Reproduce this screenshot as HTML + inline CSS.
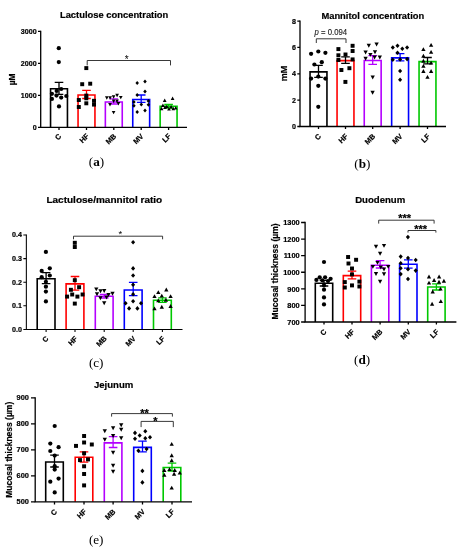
<!DOCTYPE html><html><head><meta charset="utf-8"><style>html,body{margin:0;padding:0;background:#fff}svg{display:block;filter:blur(0.3px)}text[font-weight="700"]{stroke:#000;stroke-width:.2px}</style></head><body><svg width="464" height="550" viewBox="0 0 464 550"><rect width="464" height="550" fill="#fff"/><text transform="translate(114.1,18.1) scale(1,1)" font-family='"Liberation Sans", Arial, sans-serif' font-weight="700" font-size="9.4" text-anchor="middle">Lactulose concentration</text>
<text transform="translate(15.2,79.4) rotate(-90)" font-family='"Liberation Sans", Arial, sans-serif' font-weight="700" font-size="8.4" text-anchor="middle">µM</text>
<path d="M50.55 127.45V88.80H67.45V127.45" fill="#fff" stroke="#000000" stroke-width="1.6"/>
<path d="M78.05 127.45V95.00H94.95V127.45" fill="#fff" stroke="#ff0000" stroke-width="1.6"/>
<path d="M105.35 127.45V102.00H122.25V127.45" fill="#fff" stroke="#b400ff" stroke-width="1.6"/>
<path d="M132.75 127.45V99.50H149.65V127.45" fill="#fff" stroke="#0000ff" stroke-width="1.6"/>
<path d="M160.15 127.45V106.30H177.05V127.45" fill="#fff" stroke="#00c800" stroke-width="1.6"/>
<path d="M40.7 30.65V127.45H187" fill="none" stroke="#000" stroke-width="1.3"/>
<text transform="translate(36.60,33.86) scale(1,1)" font-family='"Liberation Sans", Arial, sans-serif' font-weight="700" font-size="7.1" text-anchor="end">3000</text>
<text transform="translate(36.60,65.91) scale(1,1)" font-family='"Liberation Sans", Arial, sans-serif' font-weight="700" font-size="7.1" text-anchor="end">2000</text>
<text transform="translate(36.60,97.96) scale(1,1)" font-family='"Liberation Sans", Arial, sans-serif' font-weight="700" font-size="7.1" text-anchor="end">1000</text>
<text transform="translate(36.60,130.01) scale(1,1)" font-family='"Liberation Sans", Arial, sans-serif' font-weight="700" font-size="7.1" text-anchor="end">0</text>
<path d="M38.00 31.3H40.7M38.00 63.35H40.7M38.00 95.4H40.7M38.00 127.45H40.7M59.00 127.45v2.6M86.50 127.45v2.6M113.80 127.45v2.6M141.20 127.45v2.6M168.60 127.45v2.6" fill="none" stroke="#000" stroke-width="1.3"/>
<path d="M59.00 82.40V94.40M54.70 82.40h8.60M54.70 94.40h8.60" fill="none" stroke="#000000" stroke-width="1.3"/>
<g fill="#000"><circle cx="58.80" cy="48.20" r="2.12"/><circle cx="58.80" cy="62.10" r="2.12"/><circle cx="61.20" cy="89.00" r="2.12"/><circle cx="56.70" cy="90.90" r="2.12"/><circle cx="51.90" cy="93.80" r="2.12"/><circle cx="56.50" cy="95.60" r="2.12"/><circle cx="61.20" cy="97.60" r="2.12"/><circle cx="66.30" cy="96.00" r="2.12"/><circle cx="51.90" cy="98.90" r="2.12"/><circle cx="59.00" cy="106.40" r="2.12"/></g>
<text transform="translate(60.50,135.35) rotate(-45)" font-family='"Liberation Sans", Arial, sans-serif' font-weight="700" font-size="7.3" text-anchor="end" dominant-baseline="middle">C</text>
<path d="M86.50 90.40V98.50M82.20 90.40h8.60M82.20 98.50h8.60" fill="none" stroke="#ff0000" stroke-width="1.3"/>
<g fill="#000"><rect x="84.33" y="66.12" width="3.95" height="3.95"/><rect x="80.23" y="82.23" width="3.95" height="3.95"/><rect x="88.23" y="81.73" width="3.95" height="3.95"/><rect x="84.33" y="93.62" width="3.95" height="3.95"/><rect x="84.33" y="96.33" width="3.95" height="3.95"/><rect x="76.83" y="98.03" width="3.95" height="3.95"/><rect x="92.03" y="98.83" width="3.95" height="3.95"/><rect x="84.33" y="101.33" width="3.95" height="3.95"/><rect x="92.03" y="102.62" width="3.95" height="3.95"/><rect x="76.83" y="105.03" width="3.95" height="3.95"/></g>
<text transform="translate(88.00,135.35) rotate(-45)" font-family='"Liberation Sans", Arial, sans-serif' font-weight="700" font-size="7.3" text-anchor="end" dominant-baseline="middle">HF</text>
<path d="M113.80 98.80V104.00M109.50 98.80h8.60M109.50 104.00h8.60" fill="none" stroke="#b400ff" stroke-width="1.3"/>
<g fill="#000"><path d="M104.95 96.32L108.65 96.32L106.80 99.68Z"/><path d="M108.25 96.32L111.95 96.32L110.10 99.68Z"/><path d="M111.75 95.32L115.45 95.32L113.60 98.68Z"/><path d="M115.25 93.82L118.95 93.82L117.10 97.18Z"/><path d="M118.95 95.92L122.65 95.92L120.80 99.28Z"/><path d="M111.75 99.62L115.45 99.62L113.60 102.98Z"/><path d="M115.15 99.62L118.85 99.62L117.00 102.98Z"/><path d="M108.15 103.12L111.85 103.12L110.00 106.48Z"/><path d="M116.55 102.12L120.25 102.12L118.40 105.48Z"/><path d="M111.75 110.92L115.45 110.92L113.60 114.28Z"/></g>
<text transform="translate(115.30,135.35) rotate(-45)" font-family='"Liberation Sans", Arial, sans-serif' font-weight="700" font-size="7.3" text-anchor="end" dominant-baseline="middle">MB</text>
<path d="M141.20 95.00V102.40M136.90 95.00h8.60M136.90 102.40h8.60" fill="none" stroke="#0000ff" stroke-width="1.3"/>
<g fill="#000"><path d="M135.44 83.10L137.20 81.12L138.96 83.10L137.20 85.08Z"/><path d="M143.24 81.50L145.00 79.52L146.76 81.50L145.00 83.48Z"/><path d="M143.24 91.60L145.00 89.62L146.76 91.60L145.00 93.58Z"/><path d="M135.44 95.10L137.20 93.12L138.96 95.10L137.20 97.08Z"/><path d="M132.14 102.00L133.90 100.02L135.66 102.00L133.90 103.98Z"/><path d="M132.14 105.80L133.90 103.82L135.66 105.80L133.90 107.78Z"/><path d="M139.54 104.40L141.30 102.42L143.06 104.40L141.30 106.38Z"/><path d="M146.64 101.10L148.40 99.12L150.16 101.10L148.40 103.08Z"/><path d="M146.64 104.70L148.40 102.72L150.16 104.70L148.40 106.68Z"/><path d="M135.44 112.00L137.20 110.02L138.96 112.00L137.20 113.98Z"/><path d="M143.24 110.60L145.00 108.62L146.76 110.60L145.00 112.58Z"/></g>
<text transform="translate(142.70,135.35) rotate(-45)" font-family='"Liberation Sans", Arial, sans-serif' font-weight="700" font-size="7.3" text-anchor="end" dominant-baseline="middle">MV</text>
<path d="M168.60 104.50V108.20M164.30 104.50h8.60M164.30 108.20h8.60" fill="none" stroke="#00c800" stroke-width="1.3"/>
<g fill="#000"><path d="M162.85 101.88L166.55 101.88L164.70 98.52Z"/><path d="M170.75 99.88L174.45 99.88L172.60 96.52Z"/><path d="M161.05 106.98L164.75 106.98L162.90 103.62Z"/><path d="M159.75 110.18L163.45 110.18L161.60 106.82Z"/><path d="M163.15 108.98L166.85 108.98L165.00 105.62Z"/><path d="M164.95 108.08L168.65 108.08L166.80 104.72Z"/><path d="M167.15 110.48L170.85 110.48L169.00 107.12Z"/><path d="M169.25 108.48L172.95 108.48L171.10 105.12Z"/><path d="M171.45 110.18L175.15 110.18L173.30 106.82Z"/><path d="M173.85 109.58L177.55 109.58L175.70 106.22Z"/></g>
<text transform="translate(170.10,135.35) rotate(-45)" font-family='"Liberation Sans", Arial, sans-serif' font-weight="700" font-size="7.3" text-anchor="end" dominant-baseline="middle">LF</text>
<path d="M87.2 65.4V60.5H170.5V65.4" fill="none" stroke="#222" stroke-width="0.9"/>
<text transform="translate(126.8,62.9) scale(1,1)" font-family='"Liberation Sans", Arial, sans-serif' font-size="10" text-anchor="middle" >*</text>
<text x="96.5" y="166.4" font-family='"Liberation Serif", serif' font-size="13.2" text-anchor="middle">(<tspan font-weight="700">a</tspan>)</text>
<text transform="translate(372.8,18.9) scale(1,1)" font-family='"Liberation Sans", Arial, sans-serif' font-weight="700" font-size="9.35" text-anchor="middle">Mannitol concentration</text>
<text transform="translate(287.1,73.5) rotate(-90)" font-family='"Liberation Sans", Arial, sans-serif' font-weight="700" font-size="9.1" text-anchor="middle">mM</text>
<path d="M310.05 126.5V71.90H326.95V126.5" fill="#fff" stroke="#000000" stroke-width="1.6"/>
<path d="M337.05 126.5V60.60H353.95V126.5" fill="#fff" stroke="#ff0000" stroke-width="1.6"/>
<path d="M364.25 126.5V60.50H381.15V126.5" fill="#fff" stroke="#b400ff" stroke-width="1.6"/>
<path d="M391.65 126.5V57.90H408.55V126.5" fill="#fff" stroke="#0000ff" stroke-width="1.6"/>
<path d="M419.05 126.5V61.60H435.95V126.5" fill="#fff" stroke="#00c800" stroke-width="1.6"/>
<path d="M300.0 20.45V126.5H446" fill="none" stroke="#000" stroke-width="1.3"/>
<text transform="translate(295.90,23.66) scale(1,1)" font-family='"Liberation Sans", Arial, sans-serif' font-weight="700" font-size="7.1" text-anchor="end">8</text>
<text transform="translate(295.90,50.01) scale(1,1)" font-family='"Liberation Sans", Arial, sans-serif' font-weight="700" font-size="7.1" text-anchor="end">6</text>
<text transform="translate(295.90,76.36) scale(1,1)" font-family='"Liberation Sans", Arial, sans-serif' font-weight="700" font-size="7.1" text-anchor="end">4</text>
<text transform="translate(295.90,102.71) scale(1,1)" font-family='"Liberation Sans", Arial, sans-serif' font-weight="700" font-size="7.1" text-anchor="end">2</text>
<text transform="translate(295.90,129.06) scale(1,1)" font-family='"Liberation Sans", Arial, sans-serif' font-weight="700" font-size="7.1" text-anchor="end">0</text>
<path d="M297.30 21.1H300.0M297.30 47.45H300.0M297.30 73.8H300.0M297.30 100.15H300.0M297.30 126.5H300.0M318.50 126.5v2.6M345.50 126.5v2.6M372.70 126.5v2.6M400.10 126.5v2.6M427.50 126.5v2.6" fill="none" stroke="#000" stroke-width="1.3"/>
<path d="M318.50 65.40V77.30M314.20 65.40h8.60M314.20 77.30h8.60" fill="none" stroke="#000000" stroke-width="1.3"/>
<g fill="#000"><circle cx="311.10" cy="53.80" r="2.12"/><circle cx="318.30" cy="51.50" r="2.12"/><circle cx="325.40" cy="52.80" r="2.12"/><circle cx="321.80" cy="62.20" r="2.12"/><circle cx="314.40" cy="64.50" r="2.12"/><circle cx="311.10" cy="78.60" r="2.12"/><circle cx="318.30" cy="76.60" r="2.12"/><circle cx="325.40" cy="78.60" r="2.12"/><circle cx="318.30" cy="85.80" r="2.12"/><circle cx="318.30" cy="106.80" r="2.12"/></g>
<text transform="translate(320.10,135.50) rotate(-45)" font-family='"Liberation Sans", Arial, sans-serif' font-weight="700" font-size="7.3" text-anchor="end" dominant-baseline="middle">C</text>
<path d="M345.50 56.80V63.30M341.20 56.80h8.60M341.20 63.30h8.60" fill="none" stroke="#000" stroke-width="1.3"/>
<g fill="#000"><rect x="336.42" y="47.12" width="3.95" height="3.95"/><rect x="350.62" y="43.82" width="3.95" height="3.95"/><rect x="350.62" y="49.02" width="3.95" height="3.95"/><rect x="336.42" y="53.32" width="3.95" height="3.95"/><rect x="343.52" y="52.52" width="3.95" height="3.95"/><rect x="336.42" y="58.02" width="3.95" height="3.95"/><rect x="350.62" y="57.42" width="3.95" height="3.95"/><rect x="339.42" y="68.03" width="3.95" height="3.95"/><rect x="347.42" y="66.23" width="3.95" height="3.95"/><rect x="343.42" y="79.93" width="3.95" height="3.95"/></g>
<text transform="translate(347.10,135.50) rotate(-45)" font-family='"Liberation Sans", Arial, sans-serif' font-weight="700" font-size="7.3" text-anchor="end" dominant-baseline="middle">HF</text>
<path d="M372.70 55.60V64.30M368.40 55.60h8.60M368.40 64.30h8.60" fill="none" stroke="#b400ff" stroke-width="1.3"/>
<g fill="#000"><path d="M366.65 43.85L370.95 43.85L368.80 47.75Z"/><path d="M374.45 42.55L378.75 42.55L376.60 46.45Z"/><path d="M363.45 50.55L367.75 50.55L365.60 54.45Z"/><path d="M372.85 50.35L377.15 50.35L375.00 54.25Z"/><path d="M368.25 52.95L372.55 52.95L370.40 56.85Z"/><path d="M363.45 56.85L367.75 56.85L365.60 60.75Z"/><path d="M372.45 55.55L376.75 55.55L374.60 59.45Z"/><path d="M377.65 55.55L381.95 55.55L379.80 59.45Z"/><path d="M370.55 75.55L374.85 75.55L372.70 79.45Z"/><path d="M370.45 90.85L374.75 90.85L372.60 94.75Z"/></g>
<text transform="translate(374.30,135.50) rotate(-45)" font-family='"Liberation Sans", Arial, sans-serif' font-weight="700" font-size="7.3" text-anchor="end" dominant-baseline="middle">MB</text>
<path d="M400.10 53.60V60.90M395.80 53.60h8.60M395.80 60.90h8.60" fill="none" stroke="#0000ff" stroke-width="1.3"/>
<g fill="#000"><path d="M390.75 47.50L392.80 45.20L394.85 47.50L392.80 49.80Z"/><path d="M395.45 45.80L397.50 43.50L399.55 45.80L397.50 48.10Z"/><path d="M400.25 48.80L402.30 46.50L404.35 48.80L402.30 51.10Z"/><path d="M405.05 47.50L407.10 45.20L409.15 47.50L407.10 49.80Z"/><path d="M395.45 52.70L397.50 50.40L399.55 52.70L397.50 55.00Z"/><path d="M390.75 59.70L392.80 57.40L394.85 59.70L392.80 62.00Z"/><path d="M398.05 59.40L400.10 57.10L402.15 59.40L400.10 61.70Z"/><path d="M405.05 59.10L407.10 56.80L409.15 59.10L407.10 61.40Z"/><path d="M398.05 71.00L400.10 68.70L402.15 71.00L400.10 73.30Z"/><path d="M398.05 79.80L400.10 77.50L402.15 79.80L400.10 82.10Z"/></g>
<text transform="translate(401.70,135.50) rotate(-45)" font-family='"Liberation Sans", Arial, sans-serif' font-weight="700" font-size="7.3" text-anchor="end" dominant-baseline="middle">MV</text>
<path d="M427.50 57.50V63.90M423.20 57.50h8.60M423.20 63.90h8.60" fill="none" stroke="#000" stroke-width="1.3"/>
<g fill="#000"><path d="M428.95 46.85L433.25 46.85L431.10 42.95Z"/><path d="M421.25 51.05L425.55 51.05L423.40 47.15Z"/><path d="M428.95 53.85L433.25 53.85L431.10 49.95Z"/><path d="M421.25 57.75L425.55 57.75L423.40 53.85Z"/><path d="M421.25 62.65L425.55 62.65L423.40 58.75Z"/><path d="M428.95 64.55L433.25 64.55L431.10 60.65Z"/><path d="M421.25 67.85L425.55 67.85L423.40 63.95Z"/><path d="M421.25 72.95L425.55 72.95L423.40 69.05Z"/><path d="M428.95 72.95L433.25 72.95L431.10 69.05Z"/><path d="M425.35 78.85L429.65 78.85L427.50 74.95Z"/></g>
<text transform="translate(429.10,135.50) rotate(-45)" font-family='"Liberation Sans", Arial, sans-serif' font-weight="700" font-size="7.3" text-anchor="end" dominant-baseline="middle">LF</text>
<path d="M316.3 43V38.8H346V43" fill="none" stroke="#222" stroke-width="0.9"/>
<text transform="translate(330.8,35.0) scale(0.9,1)" font-family='"Liberation Sans", Arial, sans-serif' font-size="8.6" text-anchor="middle" fill="#1a1a1a" stroke="#1a1a1a" stroke-width="0.12"><tspan font-style="italic">p</tspan> = 0.094</text>
<text x="362.3" y="167.6" font-family='"Liberation Serif", serif' font-size="13.2" text-anchor="middle">(<tspan font-weight="700">b</tspan>)</text>
<text transform="translate(104.3,202.8) scale(1.08,1)" font-family='"Liberation Sans", Arial, sans-serif' font-weight="700" font-size="9.3" text-anchor="middle">Lactulose/mannitol ratio</text>
<path d="M37.20 329.4V278.80H55.00V329.4" fill="#fff" stroke="#000000" stroke-width="1.6"/>
<path d="M66.10 329.4V283.90H83.90V329.4" fill="#fff" stroke="#ff0000" stroke-width="1.6"/>
<path d="M95.30 329.4V296.20H113.10V329.4" fill="#fff" stroke="#b400ff" stroke-width="1.6"/>
<path d="M124.30 329.4V290.00H142.10V329.4" fill="#fff" stroke="#0000ff" stroke-width="1.6"/>
<path d="M153.50 329.4V300.20H171.30V329.4" fill="#fff" stroke="#00c800" stroke-width="1.6"/>
<path d="M26.35 234.47V329.4H182.5" fill="none" stroke="#000" stroke-width="1.05"/>
<text transform="translate(21.95,237.38) scale(1.08,1)" font-family='"Liberation Sans", Arial, sans-serif' font-weight="700" font-size="6.6" text-anchor="end">0.4</text>
<text transform="translate(21.95,260.98) scale(1.08,1)" font-family='"Liberation Sans", Arial, sans-serif' font-weight="700" font-size="6.6" text-anchor="end">0.3</text>
<text transform="translate(21.95,284.58) scale(1.08,1)" font-family='"Liberation Sans", Arial, sans-serif' font-weight="700" font-size="6.6" text-anchor="end">0.2</text>
<text transform="translate(21.95,308.18) scale(1.08,1)" font-family='"Liberation Sans", Arial, sans-serif' font-weight="700" font-size="6.6" text-anchor="end">0.1</text>
<text transform="translate(21.95,331.78) scale(1.08,1)" font-family='"Liberation Sans", Arial, sans-serif' font-weight="700" font-size="6.6" text-anchor="end">0.0</text>
<path d="M23.35 235.0H26.35M23.35 258.6H26.35M23.35 282.2H26.35M23.35 305.8H26.35M23.35 329.4H26.35M46.10 329.4v2.6M75.00 329.4v2.6M104.20 329.4v2.6M133.20 329.4v2.6M162.40 329.4v2.6" fill="none" stroke="#000" stroke-width="1.05"/>
<path d="M46.10 272.70V283.60M41.80 272.70h8.60M41.80 283.60h8.60" fill="none" stroke="#000000" stroke-width="1.3"/>
<g fill="#000"><circle cx="45.90" cy="251.90" r="2.12"/><circle cx="49.80" cy="268.30" r="2.12"/><circle cx="41.70" cy="270.90" r="2.12"/><circle cx="49.80" cy="275.50" r="2.12"/><circle cx="41.70" cy="277.20" r="2.12"/><circle cx="45.90" cy="281.80" r="2.12"/><circle cx="45.90" cy="286.70" r="2.12"/><circle cx="45.90" cy="291.60" r="2.12"/><circle cx="45.90" cy="301.40" r="2.12"/></g>
<text transform="translate(47.70,337.80) rotate(-45)" font-family='"Liberation Sans", Arial, sans-serif' font-weight="700" font-size="7.2" text-anchor="end" dominant-baseline="middle">C</text>
<path d="M75.00 276.50V290.20M70.70 276.50h8.60M70.70 290.20h8.60" fill="none" stroke="#ff0000" stroke-width="1.3"/>
<g fill="#000"><rect x="72.83" y="240.83" width="3.95" height="3.95"/><rect x="72.83" y="245.03" width="3.95" height="3.95"/><rect x="72.83" y="278.22" width="3.95" height="3.95"/><rect x="77.12" y="285.22" width="3.95" height="3.95"/><rect x="68.93" y="287.82" width="3.95" height="3.95"/><rect x="70.23" y="292.52" width="3.95" height="3.95"/><rect x="80.62" y="292.52" width="3.95" height="3.95"/><rect x="65.12" y="294.62" width="3.95" height="3.95"/><rect x="75.43" y="294.62" width="3.95" height="3.95"/><rect x="72.83" y="301.62" width="3.95" height="3.95"/></g>
<text transform="translate(76.60,337.80) rotate(-45)" font-family='"Liberation Sans", Arial, sans-serif' font-weight="700" font-size="7.2" text-anchor="end" dominant-baseline="middle">HF</text>
<path d="M104.20 294.40V298.00M99.90 294.40h8.60M99.90 298.00h8.60" fill="none" stroke="#b400ff" stroke-width="1.3"/>
<g fill="#000"><path d="M94.15 287.45L98.45 287.45L96.30 291.35Z"/><path d="M98.35 289.25L102.65 289.25L100.50 293.15Z"/><path d="M102.05 289.05L106.35 289.05L104.20 292.95Z"/><path d="M110.35 291.85L114.65 291.85L112.50 295.75Z"/><path d="M94.85 292.25L99.15 292.25L97.00 296.15Z"/><path d="M106.35 293.05L110.65 293.05L108.50 296.95Z"/><path d="M98.25 296.35L102.55 296.35L100.40 300.25Z"/><path d="M104.35 295.55L108.65 295.55L106.50 299.45Z"/><path d="M102.05 301.25L106.35 301.25L104.20 305.15Z"/></g>
<text transform="translate(105.80,337.80) rotate(-45)" font-family='"Liberation Sans", Arial, sans-serif' font-weight="700" font-size="7.2" text-anchor="end" dominant-baseline="middle">MB</text>
<path d="M133.20 282.40V295.60M128.90 282.40h8.60M128.90 295.60h8.60" fill="none" stroke="#0000ff" stroke-width="1.3"/>
<g fill="#000"><path d="M131.05 242.30L133.10 240.00L135.15 242.30L133.10 244.60Z"/><path d="M131.05 268.40L133.10 266.10L135.15 268.40L133.10 270.70Z"/><path d="M131.05 275.50L133.10 273.20L135.15 275.50L133.10 277.80Z"/><path d="M131.05 284.70L133.10 282.40L135.15 284.70L133.10 287.00Z"/><path d="M131.05 294.20L133.10 291.90L135.15 294.20L133.10 296.50Z"/><path d="M123.55 303.20L125.60 300.90L127.65 303.20L125.60 305.50Z"/><path d="M131.05 301.30L133.10 299.00L135.15 301.30L133.10 303.60Z"/><path d="M138.95 303.20L141.00 300.90L143.05 303.20L141.00 305.50Z"/><path d="M127.05 308.40L129.10 306.10L131.15 308.40L129.10 310.70Z"/><path d="M135.35 308.40L137.40 306.10L139.45 308.40L137.40 310.70Z"/></g>
<text transform="translate(134.80,337.80) rotate(-45)" font-family='"Liberation Sans", Arial, sans-serif' font-weight="700" font-size="7.2" text-anchor="end" dominant-baseline="middle">MV</text>
<path d="M162.40 297.80V302.40M158.10 297.80h8.60M158.10 302.40h8.60" fill="none" stroke="#00c800" stroke-width="1.3"/>
<g fill="#000"><path d="M164.15 291.45L168.45 291.45L166.30 287.55Z"/><path d="M156.15 294.05L160.45 294.05L158.30 290.15Z"/><path d="M152.35 298.05L156.65 298.05L154.50 294.15Z"/><path d="M159.65 297.55L163.95 297.55L161.80 293.65Z"/><path d="M168.45 298.05L172.75 298.05L170.60 294.15Z"/><path d="M156.15 302.35L160.45 302.35L158.30 298.45Z"/><path d="M163.75 301.65L168.05 301.65L165.90 297.75Z"/><path d="M159.65 308.75L163.95 308.75L161.80 304.85Z"/><path d="M168.45 307.95L172.75 307.95L170.60 304.05Z"/><path d="M152.35 310.35L156.65 310.35L154.50 306.45Z"/></g>
<text transform="translate(164.00,337.80) rotate(-45)" font-family='"Liberation Sans", Arial, sans-serif' font-weight="700" font-size="7.2" text-anchor="end" dominant-baseline="middle">LF</text>
<path d="M73.5 239.3V236.2H162.6V239.3" fill="none" stroke="#222" stroke-width="0.9"/>
<text transform="translate(120.3,236.9) scale(1,1)" font-family='"Liberation Sans", Arial, sans-serif' font-size="9.5" text-anchor="middle" >*</text>
<text x="96.2" y="367.1" font-family='"Liberation Serif", serif' font-size="13.2" text-anchor="middle">(c)</text>
<text transform="translate(380.2,203.2) scale(1,1)" font-family='"Liberation Sans", Arial, sans-serif' font-weight="700" font-size="9.6" text-anchor="middle">Duodenum</text>
<text transform="translate(278.3,271.5) rotate(-90)" font-family='"Liberation Sans", Arial, sans-serif' font-weight="700" font-size="8.5" text-anchor="middle">Mucosal thickness (µm)</text>
<path d="M315.30 322.0V283.20H332.70V322.0" fill="#fff" stroke="#000000" stroke-width="1.6"/>
<path d="M343.30 322.0V275.60H360.70V322.0" fill="#fff" stroke="#ff0000" stroke-width="1.6"/>
<path d="M371.40 322.0V265.30H388.80V322.0" fill="#fff" stroke="#b400ff" stroke-width="1.6"/>
<path d="M399.60 322.0V264.20H417.00V322.0" fill="#fff" stroke="#0000ff" stroke-width="1.6"/>
<path d="M427.70 322.0V287.00H445.10V322.0" fill="#fff" stroke="#00c800" stroke-width="1.6"/>
<path d="M305.1 221.85V322.0H456.4" fill="none" stroke="#000" stroke-width="1.3"/>
<text transform="translate(299.70,225.16) scale(1,1)" font-family='"Liberation Sans", Arial, sans-serif' font-weight="700" font-size="7.4" text-anchor="end">1300</text>
<text transform="translate(299.70,241.76) scale(1,1)" font-family='"Liberation Sans", Arial, sans-serif' font-weight="700" font-size="7.4" text-anchor="end">1200</text>
<text transform="translate(299.70,258.36) scale(1,1)" font-family='"Liberation Sans", Arial, sans-serif' font-weight="700" font-size="7.4" text-anchor="end">1100</text>
<text transform="translate(299.70,274.91) scale(1,1)" font-family='"Liberation Sans", Arial, sans-serif' font-weight="700" font-size="7.4" text-anchor="end">1000</text>
<text transform="translate(299.70,291.51) scale(1,1)" font-family='"Liberation Sans", Arial, sans-serif' font-weight="700" font-size="7.4" text-anchor="end">900</text>
<text transform="translate(299.70,308.06) scale(1,1)" font-family='"Liberation Sans", Arial, sans-serif' font-weight="700" font-size="7.4" text-anchor="end">800</text>
<text transform="translate(299.70,324.66) scale(1,1)" font-family='"Liberation Sans", Arial, sans-serif' font-weight="700" font-size="7.4" text-anchor="end">700</text>
<path d="M301.10 222.5H305.1M301.10 239.1H305.1M301.10 255.7H305.1M301.10 272.25H305.1M301.10 288.85H305.1M301.10 305.4H305.1M301.10 322.0H305.1M324.00 322.0v2.6M352.00 322.0v2.6M380.10 322.0v2.6M408.30 322.0v2.6M436.40 322.0v2.6" fill="none" stroke="#000" stroke-width="1.3"/>
<path d="M324.00 280.30V286.00M319.70 280.30h8.60M319.70 286.00h8.60" fill="none" stroke="#000000" stroke-width="1.3"/>
<g fill="#000"><circle cx="324.00" cy="262.00" r="2.12"/><circle cx="319.70" cy="277.30" r="2.12"/><circle cx="325.10" cy="277.30" r="2.12"/><circle cx="316.40" cy="279.90" r="2.12"/><circle cx="322.30" cy="280.30" r="2.12"/><circle cx="330.60" cy="278.80" r="2.12"/><circle cx="328.00" cy="281.00" r="2.12"/><circle cx="324.00" cy="285.40" r="2.12"/><circle cx="324.00" cy="289.70" r="2.12"/><circle cx="324.00" cy="297.40" r="2.12"/><circle cx="324.00" cy="304.40" r="2.12"/></g>
<text transform="translate(325.60,331.00) rotate(-45)" font-family='"Liberation Sans", Arial, sans-serif' font-weight="700" font-size="7.3" text-anchor="end" dominant-baseline="middle">C</text>
<path d="M352.00 271.20V278.80M347.70 271.20h8.60M347.70 278.80h8.60" fill="none" stroke="#ff0000" stroke-width="1.3"/>
<g fill="#000"><rect x="346.12" y="255.03" width="3.95" height="3.95"/><rect x="354.12" y="257.82" width="3.95" height="3.95"/><rect x="346.52" y="261.52" width="3.95" height="3.95"/><rect x="350.02" y="266.52" width="3.95" height="3.95"/><rect x="350.02" y="272.42" width="3.95" height="3.95"/><rect x="342.82" y="280.12" width="3.95" height="3.95"/><rect x="357.42" y="279.62" width="3.95" height="3.95"/><rect x="350.02" y="283.42" width="3.95" height="3.95"/><rect x="357.42" y="284.52" width="3.95" height="3.95"/><rect x="342.82" y="285.52" width="3.95" height="3.95"/></g>
<text transform="translate(353.60,331.00) rotate(-45)" font-family='"Liberation Sans", Arial, sans-serif' font-weight="700" font-size="7.3" text-anchor="end" dominant-baseline="middle">HF</text>
<path d="M380.10 260.70V268.00M375.80 260.70h8.60M375.80 268.00h8.60" fill="none" stroke="#b400ff" stroke-width="1.3"/>
<g fill="#000"><path d="M373.85 244.85L378.15 244.85L376.00 248.75Z"/><path d="M381.85 243.95L386.15 243.95L384.00 247.85Z"/><path d="M377.95 251.75L382.25 251.75L380.10 255.65Z"/><path d="M375.35 260.95L379.65 260.95L377.50 264.85Z"/><path d="M370.75 264.95L375.05 264.95L372.90 268.85Z"/><path d="M378.65 265.55L382.95 265.55L380.80 269.45Z"/><path d="M386.05 264.95L390.35 264.95L388.20 268.85Z"/><path d="M381.85 267.55L386.15 267.55L384.00 271.45Z"/><path d="M373.85 272.05L378.15 272.05L376.00 275.95Z"/><path d="M381.85 272.25L386.15 272.25L384.00 276.15Z"/><path d="M377.95 279.85L382.25 279.85L380.10 283.75Z"/></g>
<text transform="translate(381.70,331.00) rotate(-45)" font-family='"Liberation Sans", Arial, sans-serif' font-weight="700" font-size="7.3" text-anchor="end" dominant-baseline="middle">MB</text>
<path d="M408.30 259.80V268.20M404.00 259.80h8.60M404.00 268.20h8.60" fill="none" stroke="#0000ff" stroke-width="1.3"/>
<g fill="#000"><path d="M405.85 237.10L407.90 234.80L409.95 237.10L407.90 239.40Z"/><path d="M398.65 256.60L400.70 254.30L402.75 256.60L400.70 258.90Z"/><path d="M405.95 258.00L408.00 255.70L410.05 258.00L408.00 260.30Z"/><path d="M413.65 260.00L415.70 257.70L417.75 260.00L415.70 262.30Z"/><path d="M398.65 263.20L400.70 260.90L402.75 263.20L400.70 265.50Z"/><path d="M398.65 268.30L400.70 266.00L402.75 268.30L400.70 270.60Z"/><path d="M405.95 269.20L408.00 266.90L410.05 269.20L408.00 271.50Z"/><path d="M413.65 270.60L415.70 268.30L417.75 270.60L415.70 272.90Z"/><path d="M398.65 274.10L400.70 271.80L402.75 274.10L400.70 276.40Z"/><path d="M405.95 279.00L408.00 276.70L410.05 279.00L408.00 281.30Z"/></g>
<text transform="translate(409.90,331.00) rotate(-45)" font-family='"Liberation Sans", Arial, sans-serif' font-weight="700" font-size="7.3" text-anchor="end" dominant-baseline="middle">MV</text>
<path d="M436.40 283.80V290.00M432.10 283.80h8.60M432.10 290.00h8.60" fill="none" stroke="#00c800" stroke-width="1.3"/>
<g fill="#000"><path d="M426.85 278.45L431.15 278.45L429.00 274.55Z"/><path d="M431.95 281.95L436.25 281.95L434.10 278.05Z"/><path d="M436.95 278.45L441.25 278.45L439.10 274.55Z"/><path d="M441.75 282.75L446.05 282.75L443.90 278.85Z"/><path d="M426.85 284.55L431.15 284.55L429.00 280.65Z"/><path d="M436.85 283.75L441.15 283.75L439.00 279.85Z"/><path d="M430.55 293.45L434.85 293.45L432.70 289.55Z"/><path d="M438.35 290.55L442.65 290.55L440.50 286.65Z"/><path d="M429.95 305.65L434.25 305.65L432.10 301.75Z"/><path d="M438.65 303.05L442.95 303.05L440.80 299.15Z"/></g>
<text transform="translate(438.00,331.00) rotate(-45)" font-family='"Liberation Sans", Arial, sans-serif' font-weight="700" font-size="7.3" text-anchor="end" dominant-baseline="middle">LF</text>
<path d="M378.7 223.6V220.2H434.1V223.6" fill="none" stroke="#222" stroke-width="0.9"/>
<text transform="translate(404.7,222.1) scale(1,1)" font-family='"Liberation Sans", Arial, sans-serif' font-size="11" text-anchor="middle" font-weight="700">***</text>
<path d="M408 232.6V230.5H435.9V232.6" fill="none" stroke="#222" stroke-width="0.9"/>
<text transform="translate(420.7,233.3) scale(1,1)" font-family='"Liberation Sans", Arial, sans-serif' font-size="11" text-anchor="middle" font-weight="700">***</text>
<text x="362.2" y="363.6" font-family='"Liberation Serif", serif' font-size="13.2" text-anchor="middle">(<tspan font-weight="700">d</tspan>)</text>
<text transform="translate(113.6,387.9) scale(1,1)" font-family='"Liberation Sans", Arial, sans-serif' font-weight="700" font-size="9.6" text-anchor="middle">Jejunum</text>
<text transform="translate(12.0,449.8) rotate(-90)" font-family='"Liberation Sans", Arial, sans-serif' font-weight="700" font-size="8.5" text-anchor="middle">Mucosal thickness (µm)</text>
<path d="M45.70 501.8V462.00H63.30V501.8" fill="#fff" stroke="#000000" stroke-width="1.6"/>
<path d="M75.20 501.8V457.20H92.80V501.8" fill="#fff" stroke="#ff0000" stroke-width="1.6"/>
<path d="M104.30 501.8V442.90H121.90V501.8" fill="#fff" stroke="#b400ff" stroke-width="1.6"/>
<path d="M133.70 501.8V447.40H151.30V501.8" fill="#fff" stroke="#0000ff" stroke-width="1.6"/>
<path d="M163.20 501.8V467.50H180.80V501.8" fill="#fff" stroke="#00c800" stroke-width="1.6"/>
<path d="M35.2 397.15V501.8H192" fill="none" stroke="#000" stroke-width="1.3"/>
<text transform="translate(28.90,400.46) scale(1,1)" font-family='"Liberation Sans", Arial, sans-serif' font-weight="700" font-size="7.4" text-anchor="end">900</text>
<text transform="translate(28.90,426.46) scale(1,1)" font-family='"Liberation Sans", Arial, sans-serif' font-weight="700" font-size="7.4" text-anchor="end">800</text>
<text transform="translate(28.90,452.46) scale(1,1)" font-family='"Liberation Sans", Arial, sans-serif' font-weight="700" font-size="7.4" text-anchor="end">700</text>
<text transform="translate(28.90,478.46) scale(1,1)" font-family='"Liberation Sans", Arial, sans-serif' font-weight="700" font-size="7.4" text-anchor="end">600</text>
<text transform="translate(28.90,504.46) scale(1,1)" font-family='"Liberation Sans", Arial, sans-serif' font-weight="700" font-size="7.4" text-anchor="end">500</text>
<path d="M31.00 397.8H35.2M31.00 423.8H35.2M31.00 449.8H35.2M31.00 475.8H35.2M31.00 501.8H35.2M54.50 501.8v2.6M84.00 501.8v2.6M113.10 501.8v2.6M142.50 501.8v2.6M172.00 501.8v2.6" fill="none" stroke="#000" stroke-width="1.3"/>
<path d="M54.50 455.10V467.00M50.20 455.10h8.60M50.20 467.00h8.60" fill="none" stroke="#000000" stroke-width="1.3"/>
<g fill="#000"><circle cx="54.70" cy="426.00" r="2.12"/><circle cx="50.30" cy="443.60" r="2.12"/><circle cx="58.60" cy="447.20" r="2.12"/><circle cx="50.30" cy="451.00" r="2.12"/><circle cx="54.70" cy="455.60" r="2.12"/><circle cx="54.70" cy="466.20" r="2.12"/><circle cx="54.70" cy="469.60" r="2.12"/><circle cx="58.60" cy="478.60" r="2.12"/><circle cx="50.30" cy="481.70" r="2.12"/><circle cx="54.70" cy="492.40" r="2.12"/></g>
<text transform="translate(56.10,510.80) rotate(-45)" font-family='"Liberation Sans", Arial, sans-serif' font-weight="700" font-size="7.3" text-anchor="end" dominant-baseline="middle">C</text>
<path d="M84.00 451.90V462.20M79.70 451.90h8.60M79.70 462.20h8.60" fill="none" stroke="#ff0000" stroke-width="1.3"/>
<g fill="#000"><rect x="82.12" y="434.02" width="3.95" height="3.95"/><rect x="82.12" y="440.52" width="3.95" height="3.95"/><rect x="74.03" y="443.92" width="3.95" height="3.95"/><rect x="89.83" y="442.52" width="3.95" height="3.95"/><rect x="82.12" y="451.32" width="3.95" height="3.95"/><rect x="78.03" y="458.12" width="3.95" height="3.95"/><rect x="86.03" y="457.42" width="3.95" height="3.95"/><rect x="82.12" y="464.32" width="3.95" height="3.95"/><rect x="82.12" y="472.02" width="3.95" height="3.95"/><rect x="82.12" y="483.42" width="3.95" height="3.95"/></g>
<text transform="translate(85.60,510.80) rotate(-45)" font-family='"Liberation Sans", Arial, sans-serif' font-weight="700" font-size="7.3" text-anchor="end" dominant-baseline="middle">HF</text>
<path d="M113.10 436.70V447.50M108.80 436.70h8.60M108.80 447.50h8.60" fill="none" stroke="#b400ff" stroke-width="1.3"/>
<g fill="#000"><path d="M102.65 429.35L106.95 429.35L104.80 433.25Z"/><path d="M110.95 426.35L115.25 426.35L113.10 430.25Z"/><path d="M119.05 423.35L123.35 423.35L121.20 427.25Z"/><path d="M119.05 427.75L123.35 427.75L121.20 431.65Z"/><path d="M110.95 434.05L115.25 434.05L113.10 437.95Z"/><path d="M102.65 437.75L106.95 437.75L104.80 441.65Z"/><path d="M119.05 436.35L123.35 436.35L121.20 440.25Z"/><path d="M110.95 450.85L115.25 450.85L113.10 454.75Z"/><path d="M110.95 463.85L115.25 463.85L113.10 467.75Z"/><path d="M110.95 469.75L115.25 469.75L113.10 473.65Z"/></g>
<text transform="translate(114.70,510.80) rotate(-45)" font-family='"Liberation Sans", Arial, sans-serif' font-weight="700" font-size="7.3" text-anchor="end" dominant-baseline="middle">MB</text>
<path d="M142.50 441.10V451.90M138.20 441.10h8.60M138.20 451.90h8.60" fill="none" stroke="#0000ff" stroke-width="1.3"/>
<g fill="#000"><path d="M143.25 431.20L145.30 428.90L147.35 431.20L145.30 433.50Z"/><path d="M132.95 432.90L135.00 430.60L137.05 432.90L135.00 435.20Z"/><path d="M137.65 435.50L139.70 433.20L141.75 435.50L139.70 437.80Z"/><path d="M147.95 437.20L150.00 434.90L152.05 437.20L150.00 439.50Z"/><path d="M132.95 438.70L135.00 436.40L137.05 438.70L135.00 441.00Z"/><path d="M143.25 438.30L145.30 436.00L147.35 438.30L145.30 440.60Z"/><path d="M136.35 450.80L138.40 448.50L140.45 450.80L138.40 453.10Z"/><path d="M144.55 449.00L146.60 446.70L148.65 449.00L146.60 451.30Z"/><path d="M140.35 470.90L142.40 468.60L144.45 470.90L142.40 473.20Z"/><path d="M140.35 482.40L142.40 480.10L144.45 482.40L142.40 484.70Z"/></g>
<text transform="translate(144.10,510.80) rotate(-45)" font-family='"Liberation Sans", Arial, sans-serif' font-weight="700" font-size="7.3" text-anchor="end" dominant-baseline="middle">MV</text>
<path d="M172.00 463.10V471.00M167.70 463.10h8.60M167.70 471.00h8.60" fill="none" stroke="#00c800" stroke-width="1.3"/>
<g fill="#000"><path d="M169.55 445.85L173.85 445.85L171.70 441.95Z"/><path d="M169.55 457.15L173.85 457.15L171.70 453.25Z"/><path d="M169.55 462.15L173.85 462.15L171.70 458.25Z"/><path d="M162.15 471.95L166.45 471.95L164.30 468.05Z"/><path d="M167.35 471.05L171.65 471.05L169.50 467.15Z"/><path d="M172.55 471.95L176.85 471.95L174.70 468.05Z"/><path d="M162.15 476.65L166.45 476.65L164.30 472.75Z"/><path d="M171.95 475.75L176.25 475.75L174.10 471.85Z"/><path d="M177.65 474.55L181.95 474.55L179.80 470.65Z"/><path d="M169.55 489.55L173.85 489.55L171.70 485.65Z"/></g>
<text transform="translate(173.60,510.80) rotate(-45)" font-family='"Liberation Sans", Arial, sans-serif' font-weight="700" font-size="7.3" text-anchor="end" dominant-baseline="middle">LF</text>
<path d="M111.6 416.6V413.6H172.4V416.6" fill="none" stroke="#222" stroke-width="0.9"/>
<text transform="translate(144.5,416.6) scale(1,1)" font-family='"Liberation Sans", Arial, sans-serif' font-size="11" text-anchor="middle" font-weight="700">**</text>
<path d="M141.1 427.1V421.4H173.3V427.1" fill="none" stroke="#222" stroke-width="0.9"/>
<text transform="translate(155.3,425.4) scale(1,1)" font-family='"Liberation Sans", Arial, sans-serif' font-size="11" text-anchor="middle" font-weight="700">*</text>
<text x="96.2" y="544.1" font-family='"Liberation Serif", serif' font-size="13.2" text-anchor="middle">(e)</text></svg></body></html>
